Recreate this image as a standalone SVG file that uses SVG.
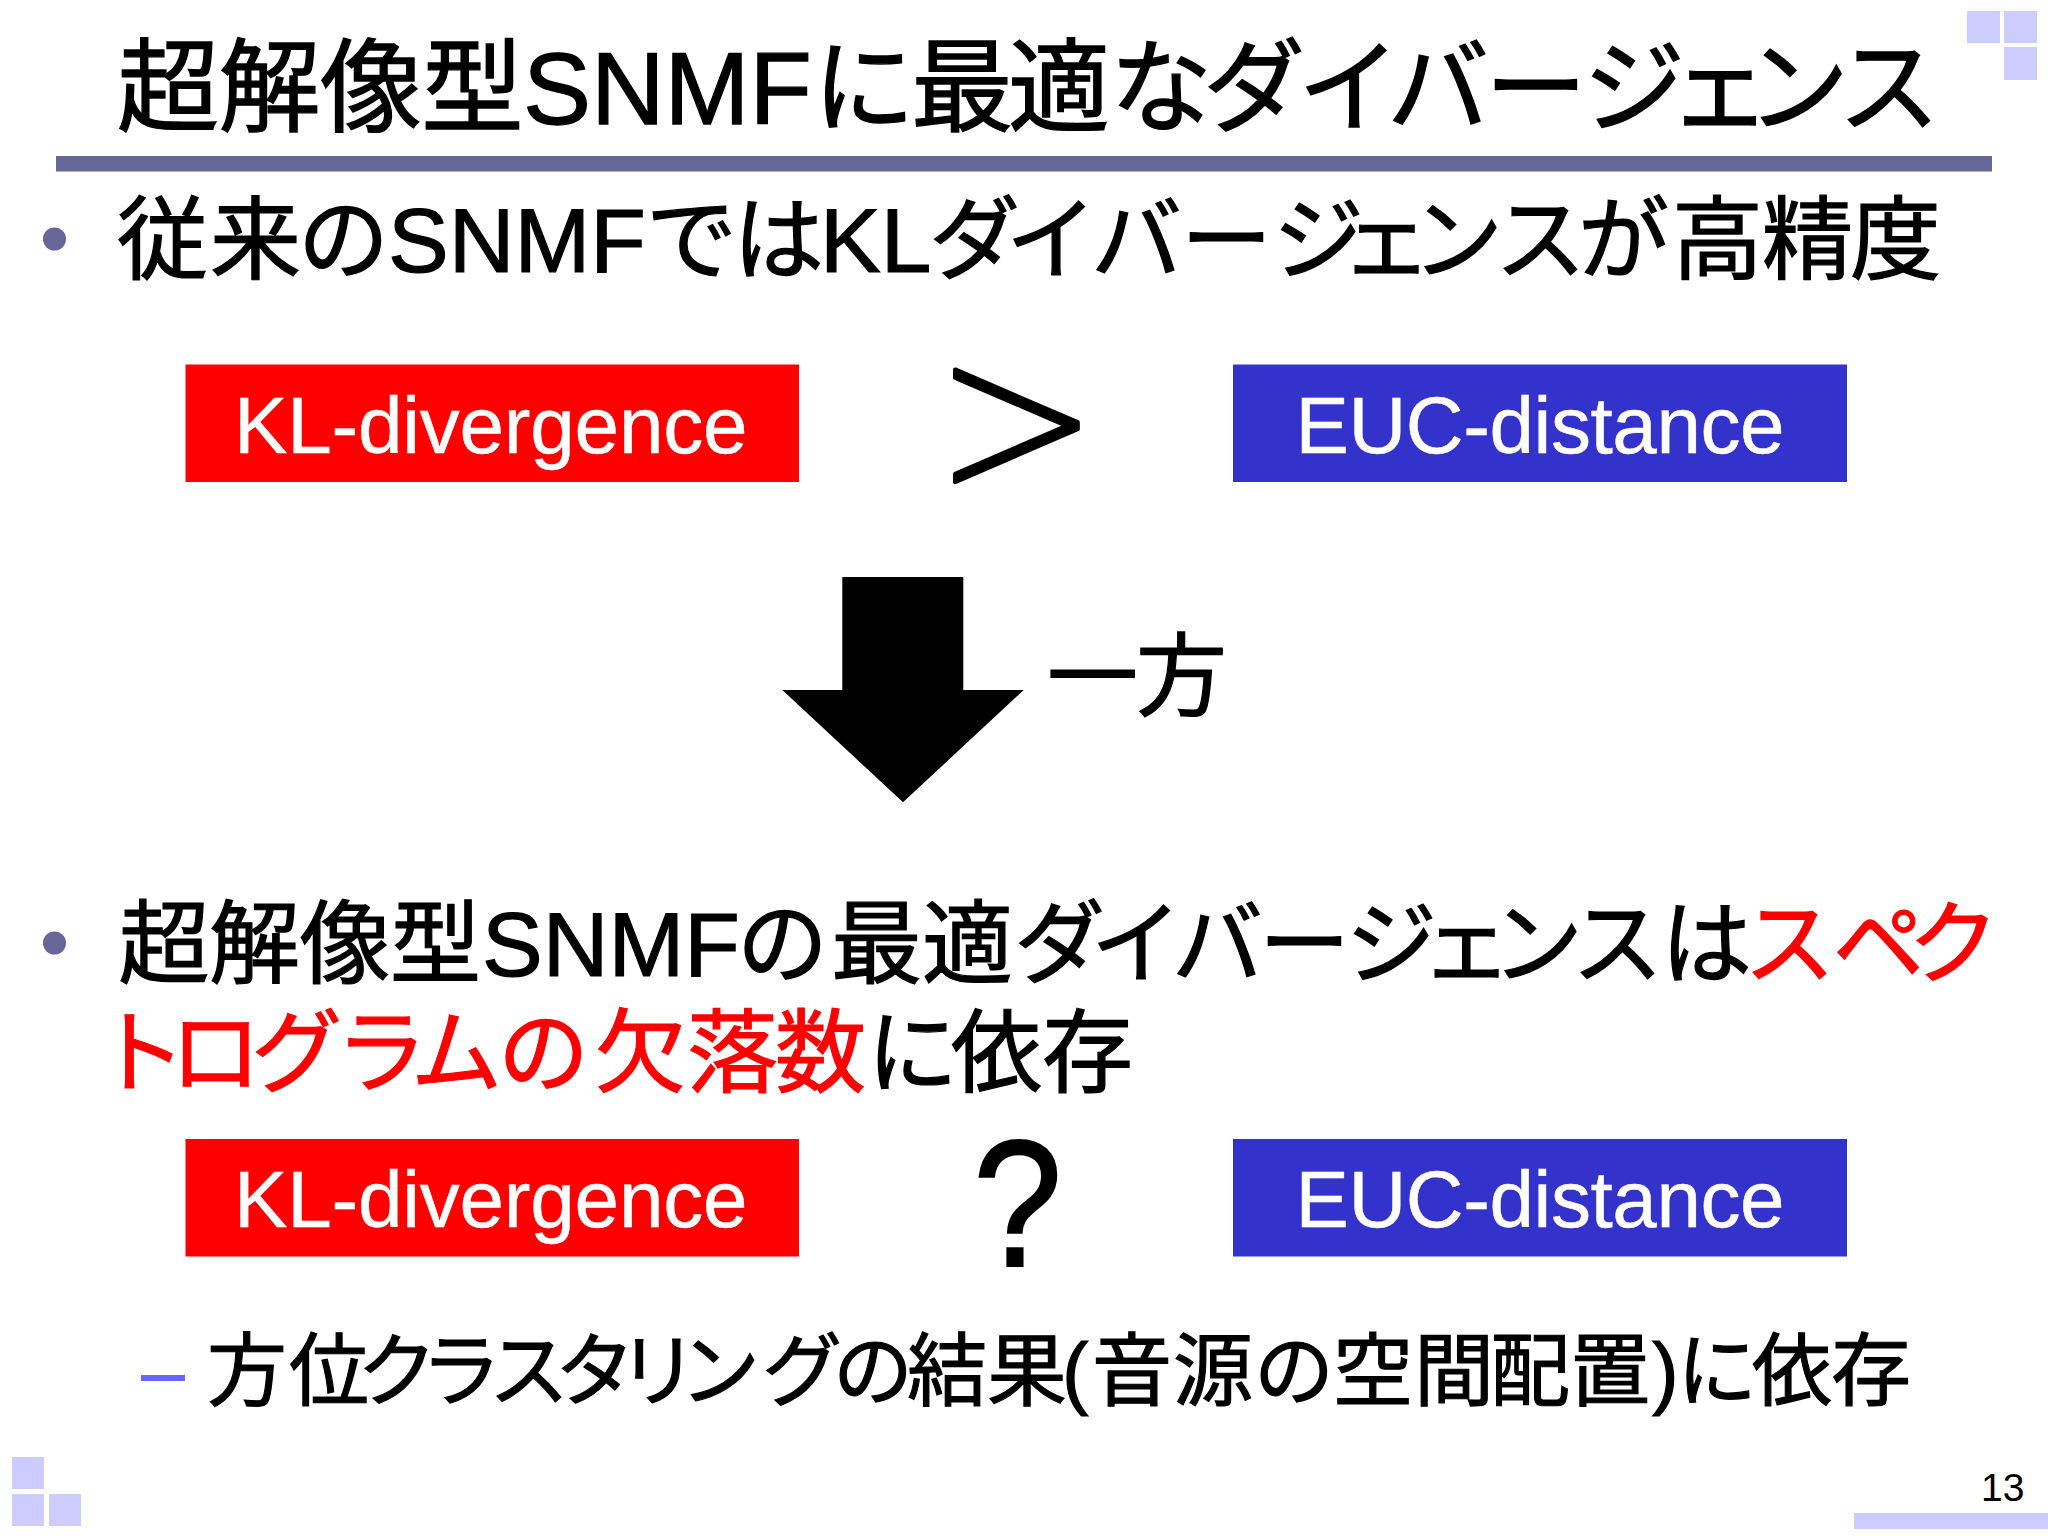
<svg xmlns="http://www.w3.org/2000/svg" width="2048" height="1536" viewBox="0 0 2048 1536">
<style>
text{font-family:"Liberation Sans","Noto Sans CJK JP",sans-serif;fill:#000}
.t{font-size:102px;stroke:#000;stroke-width:1.3px}
.b{font-size:91px;stroke:#000;stroke-width:1.2px}
.s{font-size:80px;stroke:#000;stroke-width:1.1px}
.l{font-size:80px;fill:#fff;stroke:#fff;stroke-width:.5px}
.r{fill:#f00;stroke:#f00}
.deco{fill:#ccccff}.rule{fill:#666699}
.kl{fill:#f00}.euc{fill:#3333cc}
</style>
<rect width="2048" height="1536" fill="#fff"/>
<g id="decor">
<rect class="deco" x="1967" y="11" width="33" height="32"/>
<rect class="deco" x="2004" y="11" width="33" height="32"/>
<rect class="deco" x="2004" y="47" width="33" height="33"/>
<rect class="deco" x="12" y="1457" width="32" height="32"/>
<rect class="deco" x="12" y="1494" width="32" height="32"/>
<rect class="deco" x="49" y="1494" width="32" height="32"/>
<rect class="deco" x="1854" y="1513" width="194" height="16"/>
<rect class="rule" x="56" y="156" width="1936" height="15.5"/>
</g>
<text id="title" class="t" y="124" x="117 218.5 320 421.5 523 591 664.6 749.6 813 911 1008 1110 1203 1298 1387 1485 1583 1669 1747 1838">超解像型SNMFに最適なダイバージェンス</text>
<circle class="rule" cx="54.5" cy="239" r="11.5"/>
<text id="line1" class="b" y="272" x="117 210 298 388 448.7 514.4 590.2 646 733 820 880.7 929 1006 1091 1181 1273 1341 1412 1495 1578 1672 1762 1850">従来のSNMFではKLダイバージェンスが高精度</text>
<g id="kl1"><rect class="kl" x="185.5" y="364.5" width="613.5" height="117.5"/><text class="l" x="234" y="453" letter-spacing="-.2">KL-divergence</text></g>
<text id="gt" transform="translate(938.5 519) scale(1.25 1.19)" stroke="#000" stroke-width="3.5" stroke-linejoin="round" stroke-linecap="round" style="font-family:Roboto,sans-serif;font-weight:100;font-size:240px">&gt;</text>
<g id="euc1"><rect class="euc" x="1233" y="364.5" width="614" height="117.5"/><text class="l" x="1295.5" y="453" letter-spacing="-.4">EUC-distance</text></g>
<g id="connectors"><polygon id="down-arrow" points="842.3,577 963.3,577 963.3,690 1023.7,690 903,802.3 782.3,690 842.3,690"/></g>
<text id="meanwhile" class="b" x="1047 1136" y="709">一方</text>
<circle class="rule" cx="54.5" cy="943" r="11.5"/>
<text id="line3" class="b" y="976" x="118.5 209 299.5 390 482 542.7 608.4 684.2 737 831 922 1014 1091 1172 1259 1346 1421 1492 1572 1661 1744 1833 1908">超解像型SNMFの最適ダイバージェンスは<tspan class="r">スペク</tspan></text>
<text id="line4" class="b" y="1085" x="95 170 251 336 411 498 595 687 775 867 951 1042"><tspan class="r">トログラムの欠落数</tspan>に依存</text>
<g id="kl2"><rect class="kl" x="185.5" y="1139" width="613.5" height="117.5"/><text class="l" x="234" y="1227" letter-spacing="-.2">KL-divergence</text></g>
<text id="q" transform="translate(973 1266) scale(.95 1.07)" stroke="#000" stroke-width="2" style="font-size:169px">?</text>
<g id="euc2"><rect class="euc" x="1233" y="1139" width="614" height="117.5"/><text class="l" x="1295.5" y="1227" letter-spacing="-.4">EUC-distance</text></g>
<rect x="141" y="1375" width="44" height="6" fill="#6666ff"/>
<text id="sub" class="s" y="1399" x="207 289 357 421 489 555 618 680 762 833 907 987 1062 1092 1173 1254 1333 1414 1490 1570 1652 1677 1752 1831">方位クラスタリングの結果(音源の空間配置)に依存</text>
<text id="page" x="1981" y="1501" style="font-size:39px">13</text>
</svg>
